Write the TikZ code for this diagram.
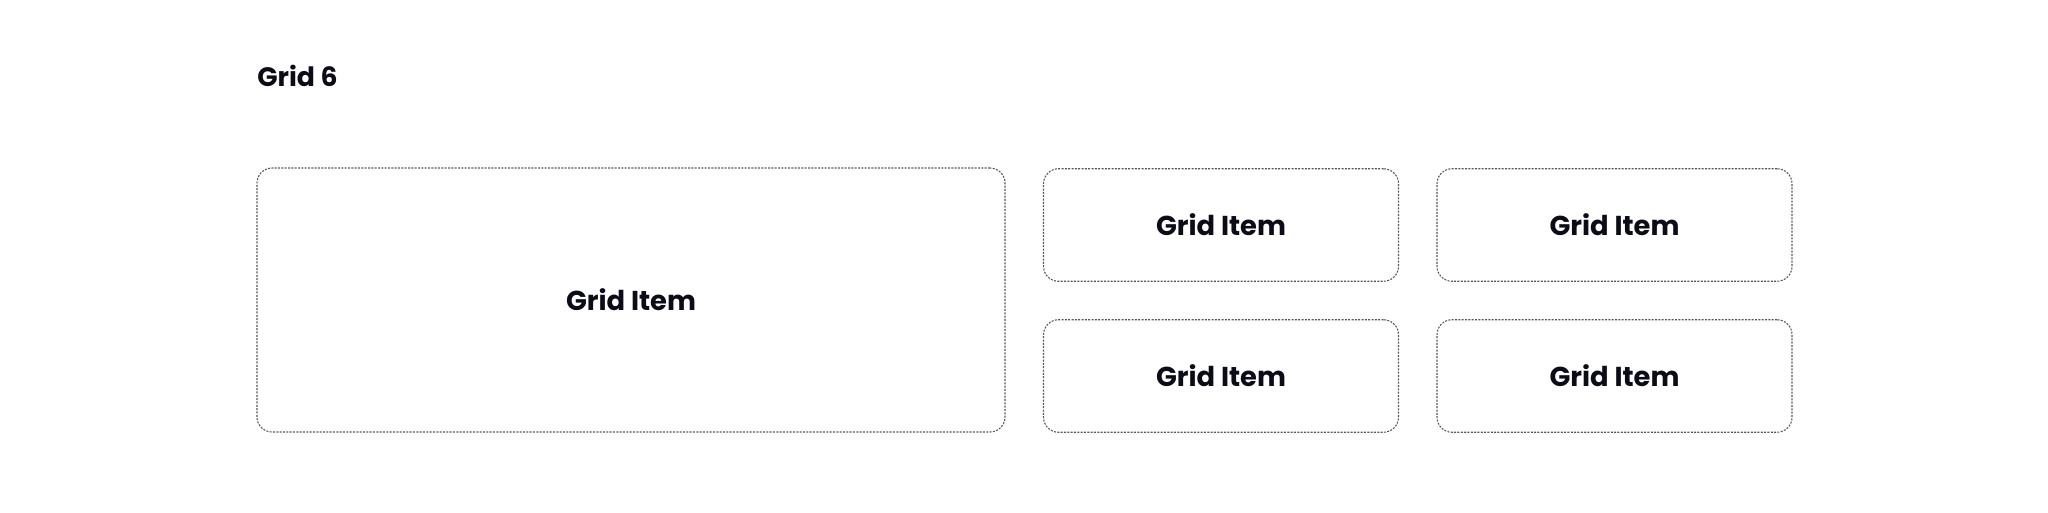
\documentclass[tikz,border=0pt]{standalone}
\usepackage{fontspec}
\setmainfont{Poppins}
\tikzset{
  gridcell/.style={draw={rgb,255:red,85;green,85;blue,95}, line width=0.8pt,
    dash pattern=on 1.5pt off 1pt, rounded corners=11.25pt, align=center,
    text={rgb,255:red,12;green,12;blue,24}, font=\fontsize{20.5}{24}\selectfont\bfseries},
  gridtitle/.style={text={rgb,255:red,12;green,12;blue,24}, font=\fontsize{20}{24}\selectfont\bfseries, inner sep=0pt}
}
\begin{document}
\begin{tikzpicture}[x=0.75pt,y=0.75pt,yscale=-1,xscale=1]
\useasboundingbox (0,0) rectangle (2048,512);

% Title
\node [gridtitle, anchor=base west] (title) at (257,86) {Grid 6};

% Big item
\node [gridcell, minimum width=561pt, minimum height=198pt] (itemA) at (631,300) {Grid Item};
% Small items, top row
\node [gridcell, minimum width=266.25pt, minimum height=84.4pt] (itemB) at (1221,225) {Grid Item};
\node [gridcell, minimum width=266.25pt, minimum height=84.4pt] (itemC) at (1614.5,225) {Grid Item};
% Small items, bottom row
\node [gridcell, minimum width=266.25pt, minimum height=84.4pt] (itemD) at (1221,376) {Grid Item};
\node [gridcell, minimum width=266.25pt, minimum height=84.4pt] (itemE) at (1614.5,376) {Grid Item};

\end{tikzpicture}
\end{document}
